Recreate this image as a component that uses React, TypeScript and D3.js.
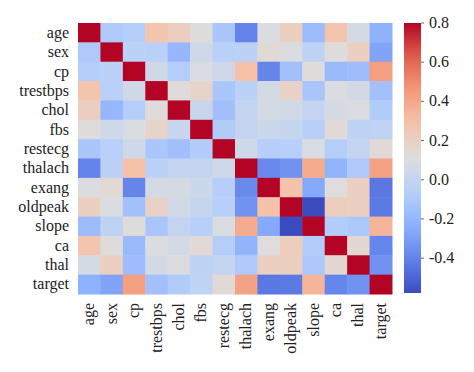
import React from 'react';
import * as d3 from 'd3';

const labels = ['age', 'sex', 'cp', 'trestbps', 'chol', 'fbs', 'restecg', 'thalach', 'exang', 'oldpeak', 'slope', 'ca', 'thal', 'target'];

// correlation rows, in label order
const age = [1, -0.098, -0.069, 0.279, 0.214, 0.121, -0.116, -0.399, 0.097, 0.21, -0.169, 0.276, 0.068, -0.225];
const sex = [-0.098, 1, -0.049, -0.057, -0.198, 0.045, -0.058, -0.044, 0.142, 0.096, -0.031, 0.118, 0.21, -0.281];
const cp = [-0.069, -0.049, 1, 0.048, -0.077, 0.094, 0.044, 0.296, -0.394, -0.149, 0.12, -0.181, -0.162, 0.434];
const trestbps = [0.279, -0.057, 0.048, 1, 0.123, 0.178, -0.114, -0.047, 0.068, 0.193, -0.121, 0.101, 0.062, -0.145];
const chol = [0.214, -0.198, -0.077, 0.123, 1, 0.013, -0.151, -0.01, 0.067, 0.054, -0.004, 0.071, 0.099, -0.085];
const fbs = [0.121, 0.045, 0.094, 0.178, 0.013, 1, -0.084, -0.009, 0.026, 0.006, -0.06, 0.138, -0.032, -0.028];
const restecg = [-0.116, -0.058, 0.044, -0.114, -0.151, -0.084, 1, 0.044, -0.071, -0.059, 0.093, -0.072, -0.012, 0.137];
const thalach = [-0.399, -0.044, 0.296, -0.047, -0.01, -0.009, 0.044, 1, -0.379, -0.344, 0.387, -0.213, -0.096, 0.422];
const exang = [0.097, 0.142, -0.394, 0.068, 0.067, 0.026, -0.071, -0.379, 1, 0.288, -0.258, 0.116, 0.207, -0.437];
const oldpeak = [0.21, 0.096, -0.149, 0.193, 0.054, 0.006, -0.059, -0.344, 0.288, 1, -0.578, 0.223, 0.21, -0.431];
const slope = [-0.169, -0.031, 0.12, -0.121, -0.004, -0.06, 0.093, 0.387, -0.258, -0.578, 1, -0.08, -0.105, 0.346];
const ca = [0.276, 0.118, -0.181, 0.101, 0.071, 0.138, -0.072, -0.213, 0.116, 0.223, -0.08, 1, 0.152, -0.392];
const thal = [0.068, 0.21, -0.162, 0.062, 0.099, -0.032, -0.012, -0.096, 0.207, 0.21, -0.105, 0.152, 1, -0.344];
const target = [-0.225, -0.281, 0.434, -0.145, -0.085, -0.028, 0.137, 0.422, -0.437, -0.431, 0.346, -0.392, -0.344, 1];

const rows = [age, sex, cp, trestbps, chol, fbs, restecg, thalach, exang, oldpeak, slope, ca, thal, target];

const colorTicks = [0.8, 0.6, 0.4, 0.2, 0.0, -0.2, -0.4];
const vmin = -0.578;
const vmax = 0.8;

// matplotlib coolwarm, sampled
const coolwarm = d3.piecewise(d3.interpolateRgb, [
  '#3b4cc0', '#6282ea', '#8db0fe', '#b8d0f9', '#dddddd', '#f5c4ac', '#f49a7b', '#de604d', '#b40426',
]);

const W = 474;
const H = 372;
const left = 78;
const top = 23;
const right = 392;
const bottom = 294;

const App: React.FC = () => {
  const x = d3.scaleBand<string>().domain(labels).range([left, right]);
  const y = d3.scaleBand<string>().domain(labels).range([top, bottom]);
  const color = d3.scaleSequential(coolwarm).domain([vmin, vmax]).clamp(true);

  const cbX = 404;
  const cbW = 17;
  const cbY = d3.scaleLinear().domain([vmin, vmax]).range([293, 23]);
  const stops = d3.range(0, 1.0001, 0.05);

  const font = "'Liberation Serif', 'DejaVu Serif', serif";

  return (
    <svg width={W} height={H} style={{ position: 'absolute', left: 0, top: 0, background: '#fff' }}>
      <defs>
        <linearGradient id="cbar" x1="0" y1="1" x2="0" y2="0">
          {stops.map(s => (
            <stop key={s} offset={`${s * 100}%`} stopColor={coolwarm(s)} />
          ))}
        </linearGradient>
      </defs>

      {rows.map((row, i) =>
        row.map((v, j) => (
          <rect
            key={`${i}-${j}`}
            x={x(labels[j])}
            y={y(labels[i])}
            width={x.bandwidth() + 0.5}
            height={y.bandwidth() + 0.5}
            fill={color(v)}
          />
        ))
      )}

      {labels.map(l => (
        <text
          key={`y-${l}`}
          x={left - 9}
          y={(y(l) as number) + y.bandwidth() / 2}
          dy="0.32em"
          textAnchor="end"
          fontFamily={font}
          fontSize={16}
          fill="#222"
        >
          {l}
        </text>
      ))}

      {labels.map(l => {
        const cx = (x(l) as number) + x.bandwidth() / 2;
        return (
          <text
            key={`x-${l}`}
            transform={`translate(${cx},${bottom + 9}) rotate(-90)`}
            dy="0.32em"
            textAnchor="end"
            fontFamily={font}
            fontSize={16}
            fill="#222"
          >
            {l}
          </text>
        );
      })}

      <rect x={cbX} y={cbY(vmax)} width={cbW} height={cbY(vmin) - cbY(vmax)} fill="url(#cbar)" />
      {colorTicks.map(t => (
        <g key={`c-${t}`} transform={`translate(${cbX + cbW},${cbY(t)})`}>
          <line x1={0} x2={3} stroke="#444" strokeWidth={0.8} />
          <text x={8} dy="0.32em" fontFamily={font} fontSize={16} fill="#222">
            {t.toFixed(1)}
          </text>
        </g>
      ))}
    </svg>
  );
};

export default App;
